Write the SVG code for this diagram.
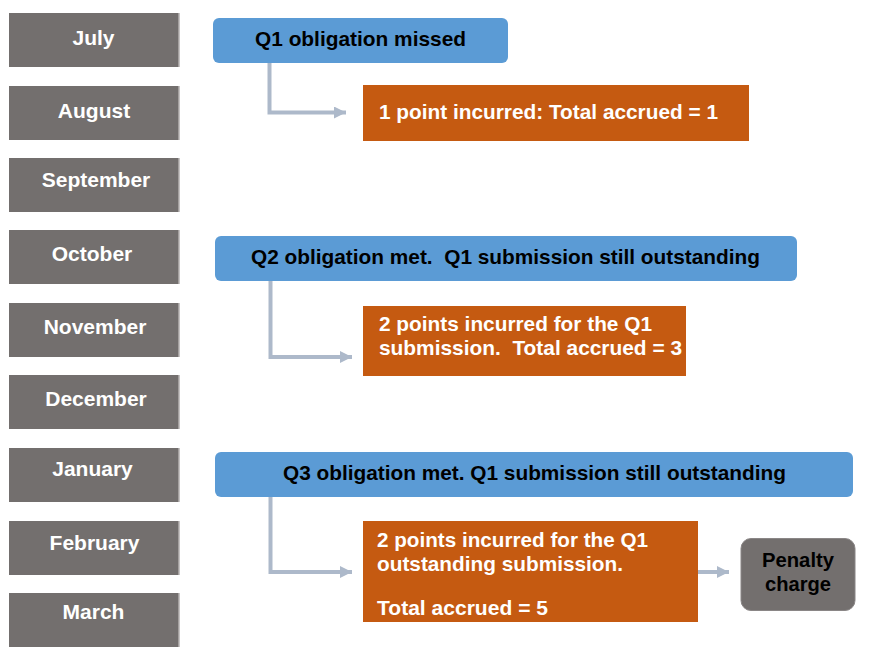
<svg xmlns="http://www.w3.org/2000/svg" width="892" height="657" viewBox="0 0 892 657">
<defs>
<style>
.month rect{fill:#736f6e;}
.month .edge{stroke:#b4b1b0;stroke-width:1.5;}
.month text{fill:#ffffff;font-family:"Liberation Sans",Arial,sans-serif;font-weight:bold;font-size:21px;text-anchor:middle;}
.event rect{fill:#5b9bd5;}
.event text{fill:#000000;font-family:"Liberation Sans",Arial,sans-serif;font-weight:bold;font-size:20.5px;text-anchor:middle;}
.points rect{fill:#c55a11;}
.points text{fill:#ffffff;font-family:"Liberation Sans",Arial,sans-serif;font-weight:bold;font-size:20.5px;}
.penalty rect{fill:#736f6e;stroke:#8a8686;stroke-width:1;}
.penalty text{fill:#000000;font-family:"Liberation Sans",Arial,sans-serif;font-weight:bold;font-size:21px;text-anchor:middle;}
.conn{fill:none;stroke:#adb9ca;stroke-width:4;}
</style>
<marker id="arr" viewBox="0 0 12 12" refX="12" refY="6" markerWidth="12" markerHeight="12" markerUnits="userSpaceOnUse" orient="auto">
<path d="M0,0 L12,6 L0,12 Z" fill="#adb9ca"/>
</marker>
</defs>
<rect width="892" height="657" fill="#ffffff"/>

<g id="m-july" class="month"><rect x="9" y="13" width="170" height="54"/><line class="edge" x1="179" y1="13" x2="179" y2="67"/><text x="93.5" y="45">July</text></g>
<g id="m-august" class="month"><rect x="9" y="86" width="170" height="54"/><line class="edge" x1="179" y1="86" x2="179" y2="140"/><text x="94" y="118">August</text></g>
<g id="m-september" class="month"><rect x="9" y="158" width="170" height="54"/><line class="edge" x1="179" y1="158" x2="179" y2="212"/><text x="96" y="187">September</text></g>
<g id="m-october" class="month"><rect x="9" y="230" width="170" height="54"/><line class="edge" x1="179" y1="230" x2="179" y2="284"/><text x="92" y="261">October</text></g>
<g id="m-november" class="month"><rect x="9" y="303" width="170" height="54"/><line class="edge" x1="179" y1="303" x2="179" y2="357"/><text x="95" y="334">November</text></g>
<g id="m-december" class="month"><rect x="9" y="375" width="170" height="54"/><line class="edge" x1="179" y1="375" x2="179" y2="429"/><text x="96" y="406">December</text></g>
<g id="m-january" class="month"><rect x="9" y="448" width="170" height="54"/><line class="edge" x1="179" y1="448" x2="179" y2="502"/><text x="92.5" y="476">January</text></g>
<g id="m-february" class="month"><rect x="9" y="521" width="170" height="54"/><line class="edge" x1="179" y1="521" x2="179" y2="575"/><text x="94.5" y="550">February</text></g>
<g id="m-march" class="month"><rect x="9" y="593" width="170" height="54"/><line class="edge" x1="179" y1="593" x2="179" y2="647"/><text x="93.5" y="619">March</text></g>

<g id="connectors">
<path class="conn" d="M269.5,63 V112.5 H346" marker-end="url(#arr)"/>
<path class="conn" d="M270.5,281 V357 H352" marker-end="url(#arr)"/>
<path class="conn" d="M270.5,497 V572 H352" marker-end="url(#arr)"/>
<path class="conn" d="M698,572 H729" marker-end="url(#arr)"/>
</g>

<g id="q1" class="event"><rect x="213" y="18" width="295" height="45" rx="6"/><text x="360.5" y="46" textLength="211" lengthAdjust="spacingAndGlyphs">Q1 obligation missed</text></g>
<g id="q2" class="event"><rect x="215" y="236" width="582" height="45" rx="6"/><text x="505.5" y="264" textLength="509" lengthAdjust="spacingAndGlyphs" xml:space="preserve">Q2 obligation met.  Q1 submission still outstanding</text></g>
<g id="q3" class="event"><rect x="215" y="452" width="638" height="45" rx="6"/><text x="534.5" y="480" textLength="503" lengthAdjust="spacingAndGlyphs">Q3 obligation met. Q1 submission still outstanding</text></g>

<g id="p1" class="points"><rect x="363" y="85" width="386" height="56"/><text x="379" y="119" textLength="339" lengthAdjust="spacingAndGlyphs">1 point incurred: Total accrued = 1</text></g>
<g id="p2" class="points"><rect x="363" y="306" width="323" height="70"/>
<text x="379" y="331" textLength="273" lengthAdjust="spacingAndGlyphs">2 points incurred for the Q1</text>
<text x="379" y="355" textLength="303" lengthAdjust="spacingAndGlyphs" xml:space="preserve">submission.  Total accrued = 3</text></g>
<g id="p3" class="points"><rect x="363" y="521" width="335" height="101"/>
<text x="377" y="547" textLength="271" lengthAdjust="spacingAndGlyphs">2 points incurred for the Q1</text>
<text x="377" y="571" textLength="246" lengthAdjust="spacingAndGlyphs">outstanding submission.</text>
<text x="377" y="615" textLength="171" lengthAdjust="spacingAndGlyphs">Total accrued = 5</text></g>

<g id="penalty" class="penalty"><rect x="741" y="538.5" width="114" height="72" rx="10"/>
<text x="798" y="567" textLength="72" lengthAdjust="spacingAndGlyphs">Penalty</text>
<text x="798" y="591" textLength="66" lengthAdjust="spacingAndGlyphs">charge</text></g>
</svg>
